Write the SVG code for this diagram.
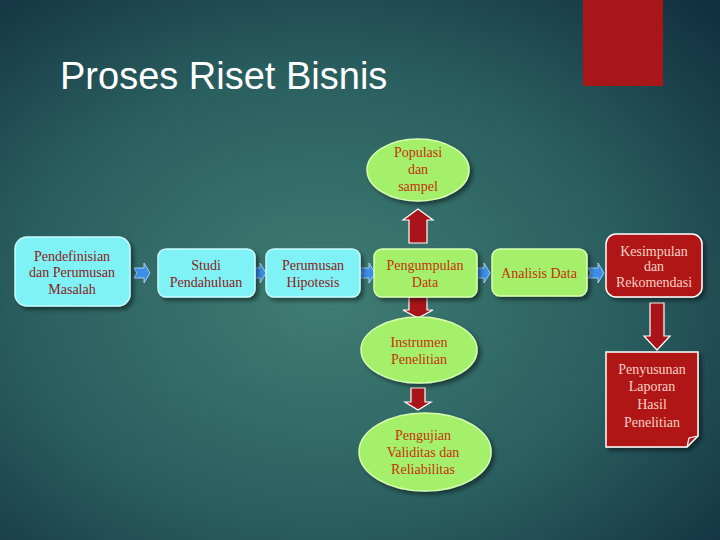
<svg xmlns="http://www.w3.org/2000/svg" width="720" height="540" viewBox="0 0 720 540">
<defs>
<radialGradient id="bg" cx="0.45" cy="0.55" r="0.75">
<stop offset="0" stop-color="#3f7d72"/><stop offset="0.55" stop-color="#2a5f60"/><stop offset="1" stop-color="#133040"/>
</radialGradient>
<filter id="sh" x="-20%" y="-20%" width="150%" height="150%"><feDropShadow dx="3" dy="3" stdDeviation="2" flood-color="#000" flood-opacity="0.45"/></filter>
<g id="ra"><path d="M0,-5 L10,-5 L10,-10 L16,0 L10,10 L10,5 L0,5 L3,0 Z" fill="#3d8fe8" stroke="#bfe0ff" stroke-width="0.8"/></g>
</defs>
<style>
.cy{fill:#7ff2f6;stroke:#c8fbff;stroke-width:1.5;filter:url(#sh)}
.gr{fill:#a5f06a;stroke:#d8ffb0;stroke-width:1.5;filter:url(#sh)}
.rd{fill:#b01518;stroke:#fff;stroke-width:1.5;filter:url(#sh)}
.ar{fill:#a8141a;stroke:#fff;stroke-width:1.2}
.t{font-family:"Liberation Serif","Times New Roman",serif;font-size:14px;text-anchor:middle}
.tc{fill:#8b1a1a}.tg{fill:#c4320c}.tr{fill:#f6d2c4}
</style>
<rect width="720" height="540" fill="url(#bg)"/>
<rect x="583" y="0" width="80" height="86" fill="#a8161a"/>
<text x="60" y="89" style="font-family:'Liberation Sans',Arial,sans-serif;font-size:38px;fill:#fff">Proses Riset Bisnis</text>
<g id="connectors">
<use href="#ra" x="134" y="273"/>
<use href="#ra" x="250" y="273"/>
<use href="#ra" x="359" y="273"/>
<use href="#ra" x="474" y="273"/>
<use href="#ra" x="588" y="273"/>
<path class="ar" d="M409,243 L427,243 L427,220 L433,220 L418,209 L403,220 L409,220 Z"/>
<path class="ar" d="M409,297 L427,297 L427,310 L433,310 L418,318 L403,310 L409,310 Z"/>
<path class="ar" d="M411,388 L425,388 L425,402 L431,402 L418,410 L405,402 L411,402 Z"/>
<path class="ar" d="M650,303 L664,303 L664,336 L670,336 L657,350 L644,336 L650,336 Z"/>
</g>
<g id="n1"><rect class="cy" x="15" y="237" width="115" height="69" rx="12"/><text class="t tc" x="72" y="261">Pendefinisian</text><text class="t tc" x="72" y="277">dan Perumusan</text><text class="t tc" x="72" y="294">Masalah</text></g>
<g id="n2"><rect class="cy" x="158" y="249" width="97" height="48" rx="8"/><text class="t tc" x="206" y="270">Studi</text><text class="t tc" x="206" y="287">Pendahuluan</text></g>
<g id="n3"><rect class="cy" x="266" y="249" width="94" height="48" rx="8"/><text class="t tc" x="313" y="270">Perumusan</text><text class="t tc" x="313" y="287">Hipotesis</text></g>
<g id="n4"><rect class="gr" x="374" y="249" width="103" height="48" rx="8"/><text class="t tg" x="425" y="270">Pengumpulan</text><text class="t tg" x="425" y="287">Data</text></g>
<g id="n5"><rect class="gr" x="492" y="249" width="95" height="47" rx="8"/><text class="t tg" x="539" y="278">Analisis Data</text></g>
<g id="n6"><rect class="rd" x="606" y="234" width="96" height="63" rx="10"/><text class="t tr" x="654" y="256">Kesimpulan</text><text class="t tr" x="654" y="271">dan</text><text class="t tr" x="654" y="287">Rekomendasi</text></g>
<g id="n7"><ellipse class="gr" cx="418" cy="170" rx="51" ry="31"/><text class="t tg" x="418" y="157">Populasi</text><text class="t tg" x="418" y="174">dan</text><text class="t tg" x="418" y="191">sampel</text></g>
<g id="n8"><ellipse class="gr" cx="419" cy="350" rx="58" ry="33"/><text class="t tg" x="419" y="347">Instrumen</text><text class="t tg" x="419" y="364">Penelitian</text></g>
<g id="n9"><ellipse class="gr" cx="425" cy="452" rx="66" ry="39"/><text class="t tg" x="423" y="440">Pengujian</text><text class="t tg" x="423" y="457">Validitas dan</text><text class="t tg" x="423" y="474">Reliabilitas</text></g>
<g id="n10"><path class="rd" d="M606,352 L698,352 L698,436 L687,447 L606,447 Z"/><path d="M687,447 L689,438 L698,436" fill="none" stroke="#fff" stroke-width="1.2"/><text class="t tr" x="652" y="374">Penyusunan</text><text class="t tr" x="652" y="391">Laporan</text><text class="t tr" x="652" y="409">Hasil</text><text class="t tr" x="652" y="427">Penelitian</text></g>
</svg>
